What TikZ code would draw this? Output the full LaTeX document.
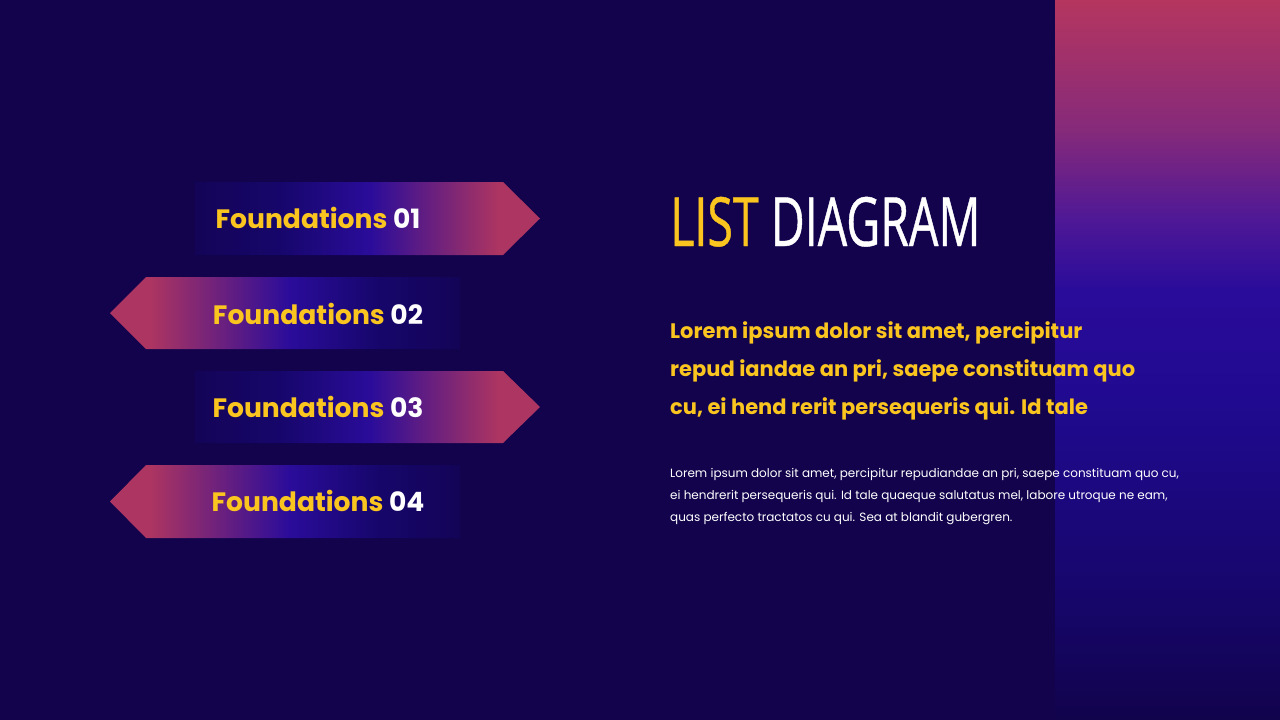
\documentclass[tikz,border=0pt]{standalone}
\usepackage{fontspec}
\setmainfont{Poppins}
\newfontfamily\labfont{Poppins Bold}
\newfontfamily\bodyfont{Poppins}
\newfontfamily\titlefont[FakeStretch=0.685,FakeBold=0.6]{Open Sans}
\definecolor{bg}{HTML}{12034C}
\definecolor{dk}{HTML}{16066A}
\definecolor{bl}{HTML}{2A0C9A}
\definecolor{pk}{HTML}{AD3561}
\definecolor{yl}{HTML}{FBC51F}
\definecolor{edge}{HTML}{140457}
\definecolor{sa}{HTML}{200A90}
\definecolor{sb}{HTML}{4E1896}
\definecolor{sc}{HTML}{862A7A}
\definecolor{st}{HTML}{B5365F}
\pgfdeclarehorizontalshading{arrR}{100bp}{color(0bp)=(edge); color(25bp)=(edge); color(37bp)=(dk); color(50.4bp)=(bl); color(69bp)=(pk); color(100bp)=(pk)}
\pgfdeclarehorizontalshading{arrL}{100bp}{color(0bp)=(pk); color(25bp)=(pk); color(30.7bp)=(pk); color(50.7bp)=(bl); color(63.6bp)=(dk); color(75bp)=(edge); color(100bp)=(edge)}
\pgfdeclareverticalshading{strip}{100bp}{color(0bp)=(bg); color(25bp)=(bg); color(33.3bp)=(dk); color(47.2bp)=(sa); color(54.9bp)=(bl); color(59.7bp)=(sb); color(66bp)=(sc); color(75bp)=(st); color(100bp)=(st)}
\tikzset{
  lab/.style={font=\labfont\fontsize{26.6}{30}\selectfont, text=yl, anchor=base, inner sep=0pt},
  bodybold/.style={font=\labfont\fontsize{21}{24}\selectfont, text=yl, anchor=base west, inner sep=0pt},
  bodysmall/.style={font=\bodyfont\fontsize{12}{14}\selectfont, text=white, anchor=base west, inner sep=0pt},
}
\begin{document}
\begin{tikzpicture}[x=1pt,y=-1pt]
\fill[bg] (0,0) rectangle (1280,720);
\useasboundingbox (0,0) rectangle (1280,720);
% right strip
\shade[shading=strip] (1055,0) rectangle (1280,720);
% arrows
\shade[shading=arrR] (195,182) -- (503,182) -- (540,218.5) -- (503,255) -- (195,255) -- cycle;
\shade[shading=arrL] (110,313) -- (146,277) -- (460,277) -- (460,349) -- (146,349) -- cycle;
\shade[shading=arrR] (195,371) -- (503,371) -- (540,407) -- (503,443) -- (195,443) -- cycle;
\shade[shading=arrL] (110,501.5) -- (146,465) -- (460,465) -- (460,538) -- (146,538) -- cycle;
% labels
\node[lab] (l1) at (318,228.5) {Foundations \textcolor{white}{01}};
\node[lab] (l2) at (318,324.5) {Foundations \textcolor{white}{02}};
\node[lab] (l3) at (318,417.5) {Foundations \textcolor{white}{03}};
\node[lab] (l4) at (318,511.5) {Foundations \textcolor{white}{04}};
% title
\node[anchor=base west, inner sep=0pt, font=\titlefont\fontsize{68}{70}\selectfont] (title) at (670,246) {\textcolor{yl}{LIST} \textcolor{white}{DIAGRAM}};
% bold body
\node[bodybold] (b1) at (670,338) {Lorem ipsum dolor sit amet, percipitur};
\node[bodybold] (b2) at (670,376) {repud iandae an pri, saepe constituam quo};
\node[bodybold] (b3) at (670,414) {cu, ei hend rerit persequeris qui. Id tale};
% small body
\node[bodysmall] (s1) at (670,477) {Lorem ipsum dolor sit amet, percipitur repudiandae an pri, saepe constituam quo cu,};
\node[bodysmall] (s2) at (670,499) {ei hendrerit persequeris qui. Id tale quaeque salutatus mel, labore utroque ne eam,};
\node[bodysmall] (s3) at (670,521) {quas perfecto tractatos cu qui. Sea at blandit gubergren.};
\end{tikzpicture}
\end{document}
